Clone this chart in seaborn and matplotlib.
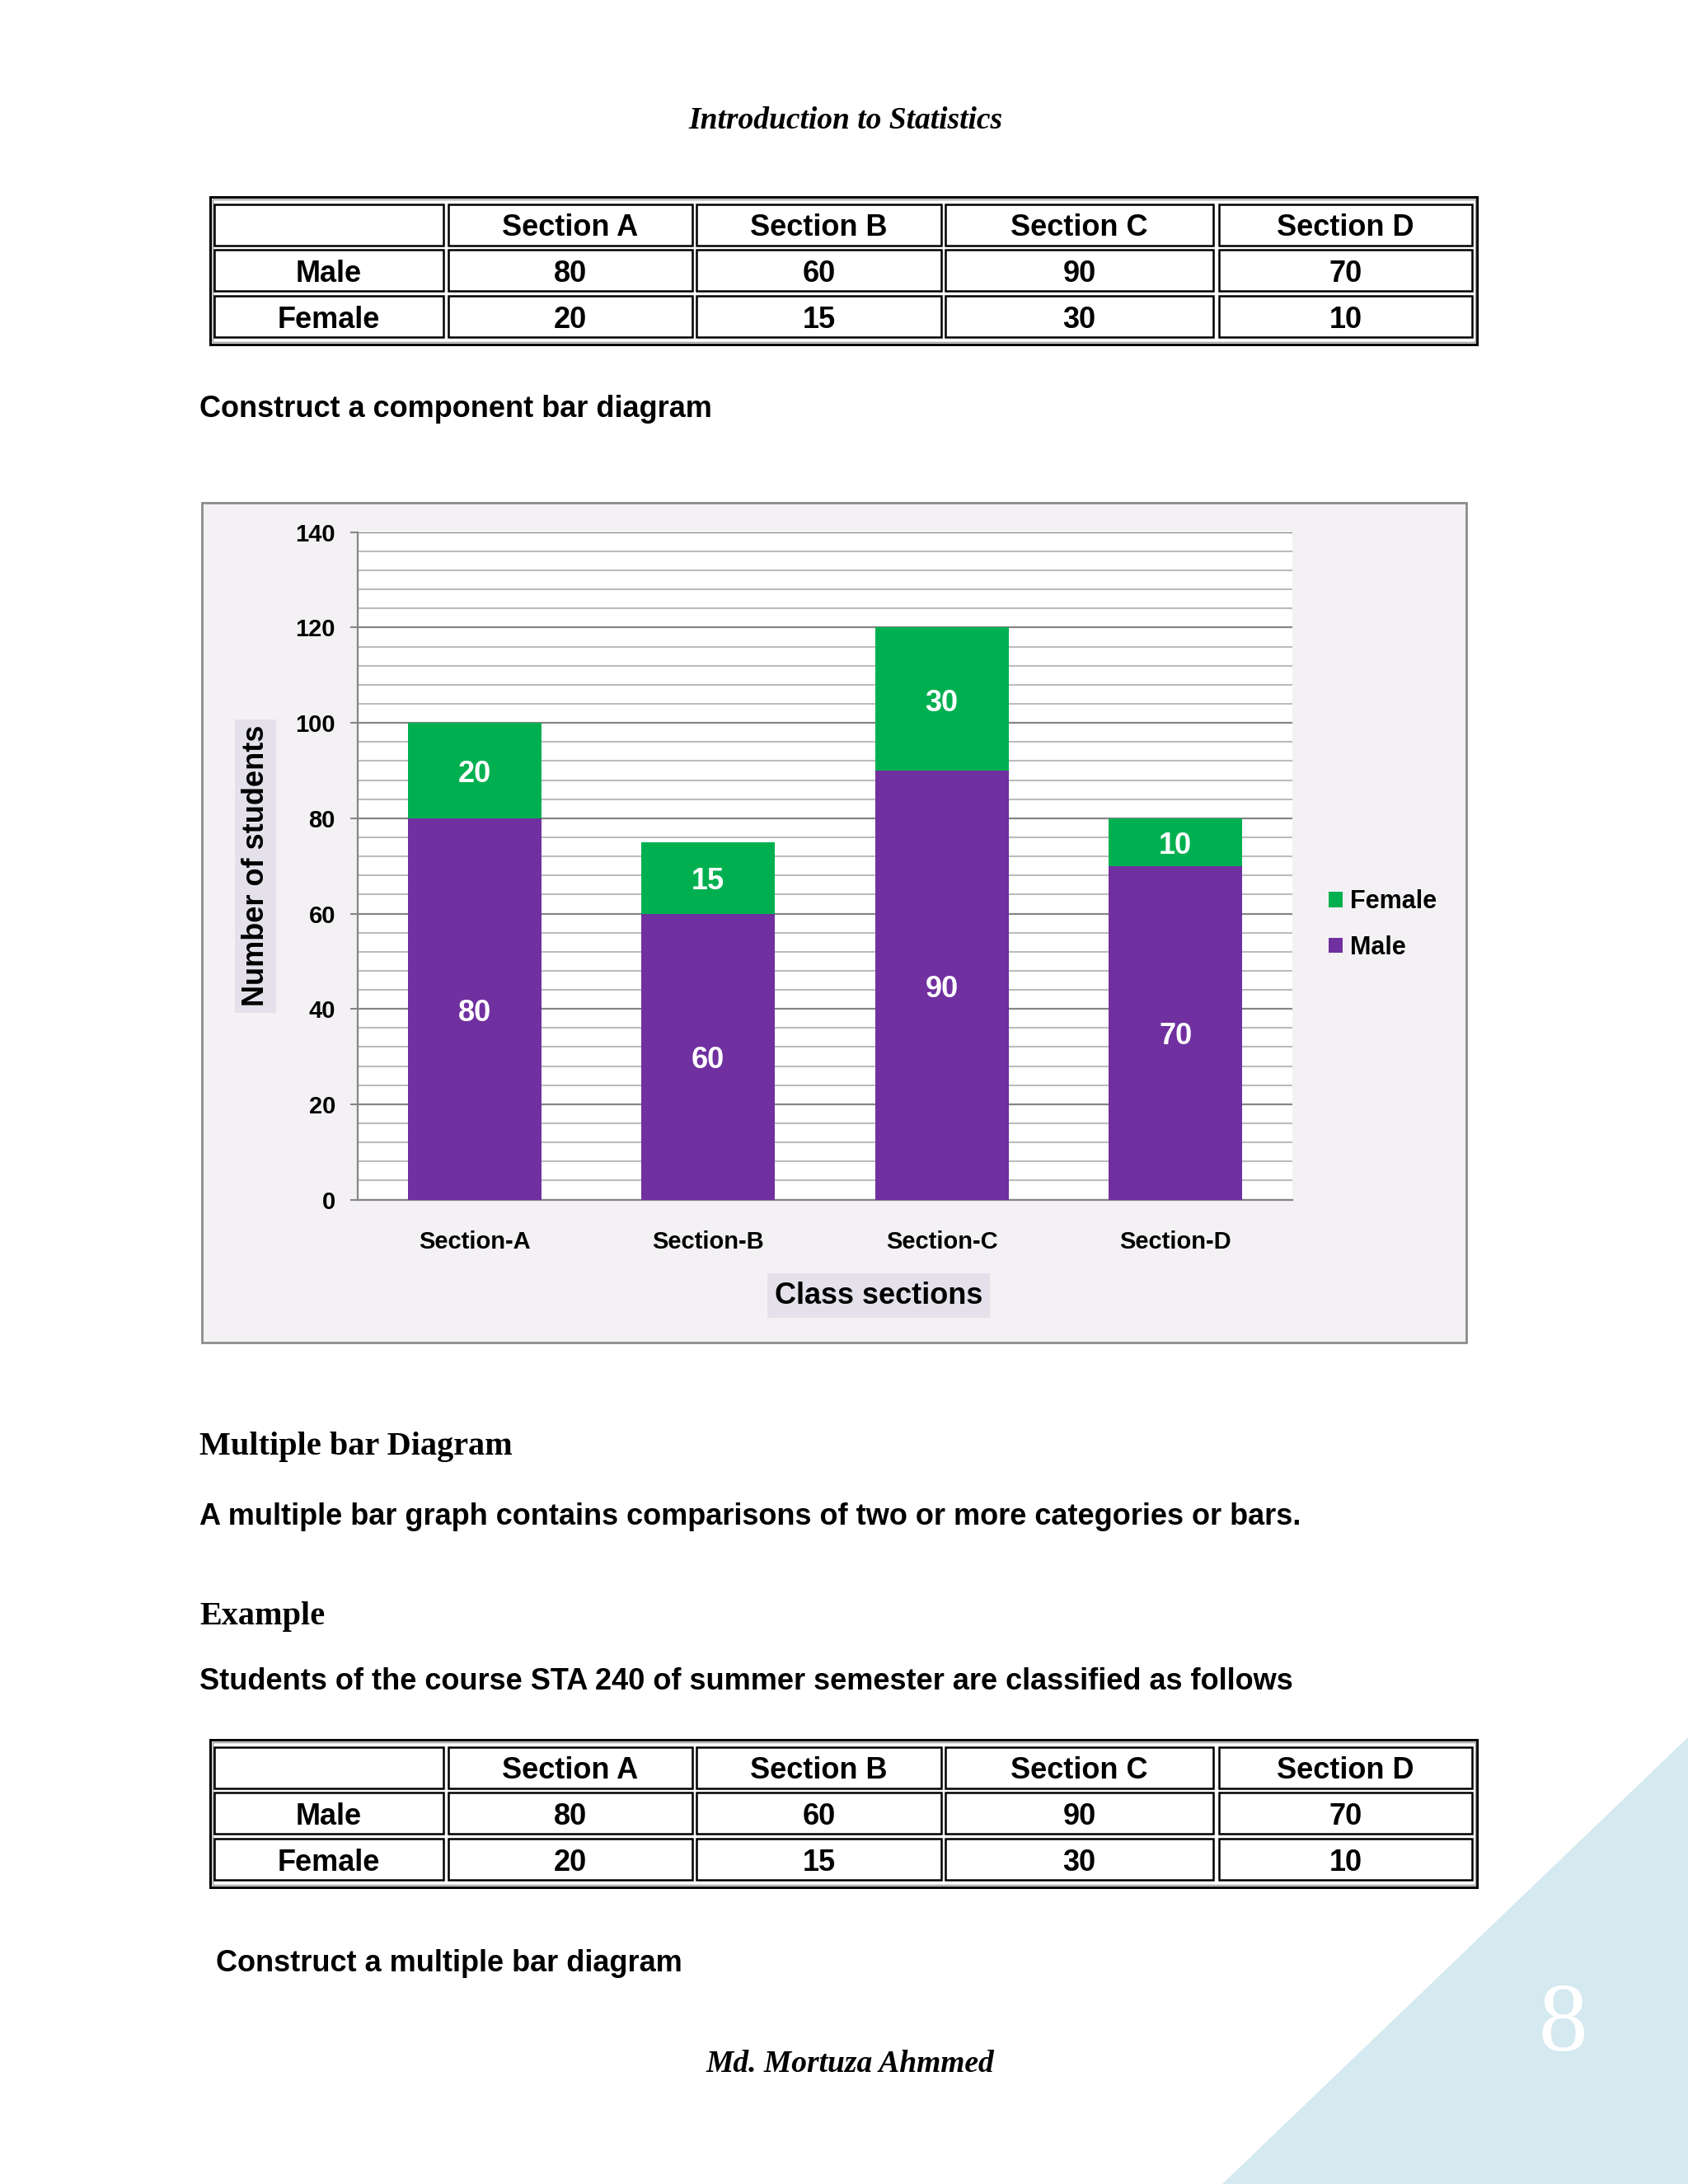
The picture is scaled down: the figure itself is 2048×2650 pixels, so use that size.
import numpy as np
import pandas as pd
import matplotlib.pyplot as plt
import seaborn as sns
from matplotlib.patches import Rectangle, Polygon, Patch

# data
table_cols = ["Section A", "Section B", "Section C", "Section D"]
chart_sections = ["Section-A", "Section-B", "Section-C", "Section-D"]
row_names = ["Male", "Female"]
male = [80, 60, 90, 70]
female = [20, 15, 30, 10]

PURPLE = "#7030a0"
GREEN = "#00b050"
W, H = 2048, 2650

sns.set_style("white")
plt.rcParams["font.family"] = ["Liberation Sans", "DejaVu Sans"]
plt.rcParams["text.color"] = "black"
plt.rcParams["axes.labelcolor"] = "black"
plt.rcParams["xtick.labelcolor"] = "black"
plt.rcParams["ytick.labelcolor"] = "black"

fig = plt.figure(figsize=(W / 100, H / 100), dpi=100)
fig.patch.set_facecolor("white")

# page layer in pixel coords
page = fig.add_axes([0, 0, 1, 1])
page.set_xlim(0, W)
page.set_ylim(H, 0)
page.axis("off")


def put(x, y, s, **kw):
    # va=center sits a bit high for caps/digits, nudge down
    kw.setdefault("va", "center")
    page.text(x, y + 4, s, **kw)


# corner decoration
page.add_patch(Polygon([(W, 2108), (W, H), (1483, H)], closed=True, fc="#d4e9f0", ec="none"))
put(1896, 2455, "8", fontsize=86, color="white", family="Liberation Serif", ha="center")

col_edges = [(260, 538), (544, 840), (845, 1142), (1147, 1472), (1479, 1786)]
row_edges = [(248, 298), (303, 353), (359, 409)]


def draw_table(top):
    off = top - 241
    page.add_patch(Rectangle((255, 239 + off), 1537, 179, fill=False, ec="black", lw=2.2))
    page.add_patch(Rectangle((257.5, 242 + off), 1532, 173, fill=False, ec="#9a9a9a", lw=1))
    cells = [[""] + table_cols]
    for name, vals in zip(row_names, [male, female]):
        cells.append([name] + [str(v) for v in vals])
    for r, (y0, y1) in enumerate(row_edges):
        for c, (x0, x1) in enumerate(col_edges):
            page.add_patch(Rectangle((x0, y0 + off), x1 - x0, y1 - y0, fill=False,
                                     ec="black", lw=1.8))
            put((x0 + x1) / 2, (y0 + y1) / 2 + off, cells[r][c], ha="center",
                fontsize=26, fontweight="bold")


# header / footer
put(1026, 142, "Introduction to Statistics", fontsize=27, style="italic",
    fontweight="bold", family="Liberation Serif", ha="center")
put(1031, 2501, "Md. Mortuza Ahmmed", fontsize=27, style="italic",
    fontweight="bold", family="Liberation Serif", ha="center")

draw_table(241)
put(242, 493, "Construct a component bar diagram", fontsize=26, fontweight="bold")

put(242, 1751, "Multiple bar Diagram", fontsize=29, fontweight="bold", family="Liberation Serif")
put(242, 1837, "A multiple bar graph contains comparisons of two or more categories or bars.",
    fontsize=26, fontweight="bold")
put(242, 1958, "Example", fontsize=29, fontweight="bold", family="Liberation Serif")
put(242, 2036, "Students of the course STA 240 of summer semester are classified as follows",
    fontsize=26, fontweight="bold")
draw_table(2113)
put(262, 2379, "Construct a multiple bar diagram", fontsize=26, fontweight="bold")

# chart frame
page.add_patch(Rectangle((245, 610), 1534, 1019, fc="#f3f1f4", ec="#8c8c8c", lw=2))

top_px, bot_px = 645.7, 1455.6
ax = fig.add_axes([434 / W, 1 - bot_px / H, 1134 / W, (bot_px - top_px) / H])
ax.set_facecolor("white")

df = pd.DataFrame({"section": chart_sections, "Male": male, "Female": female})
df["Total"] = df["Male"] + df["Female"]
sns.barplot(data=df, x="section", y="Total", color=GREEN, width=0.571, saturation=1,
            linewidth=0, ax=ax, zorder=3)
sns.barplot(data=df, x="section", y="Male", color=PURPLE, width=0.571, saturation=1,
            linewidth=0, ax=ax, zorder=3)

for i in range(len(chart_sections)):
    ax.annotate(str(male[i]), (i, male[i] / 2), xytext=(0, -3.5), textcoords="offset points",
                ha="center", va="center", color="white", fontsize=26, fontweight="bold", zorder=4)
    ax.annotate(str(female[i]), (i, male[i] + female[i] / 2), xytext=(0, -3.5),
                textcoords="offset points", ha="center", va="center", color="white",
                fontsize=26, fontweight="bold", zorder=4)

ax.set_xlim(-0.5, 3.5)
ax.set_ylim(0, 140)
ax.set_yticks(np.arange(0, 141, 20))
ax.set_yticks(np.arange(0, 141, 4), minor=True)
ax.set_axisbelow(True)
ax.grid(which="minor", axis="y", color="#bcbcbc", lw=1.5)
ax.grid(which="major", axis="y", color="#858585", lw=1.6)
ax.tick_params(axis="y", which="major", length=6.5, width=1.5, color="#858585", pad=13,
               labelsize=21, left=True)
ax.tick_params(axis="y", which="minor", length=0)
ax.tick_params(axis="x", length=0, pad=27, labelsize=21)
for lab in ax.get_xticklabels() + ax.get_yticklabels():
    lab.set_fontweight("bold")
for s in ["top", "right"]:
    ax.spines[s].set_visible(False)
for s in ["left", "bottom"]:
    ax.spines[s].set_color("#858585")
    ax.spines[s].set_linewidth(1.6)

ax.set_ylabel("Number of students", fontsize=26, fontweight="bold", va="center",
              bbox=dict(boxstyle="square,pad=0.2", fc="#e4e1ea", ec="none"))
ax.yaxis.set_label_coords(-(434 - 310) / 1134, 0.5)
ax.set_xlabel("Class sections", fontsize=26, fontweight="bold", va="center",
              bbox=dict(boxstyle="square,pad=0.25", fc="#e4e1ea", ec="none"))
ax.xaxis.set_label_coords((1066 - 434) / 1134, -(1572 - bot_px) / (bot_px - top_px))

handles = [Patch(fc=GREEN, ec="none"), Patch(fc=PURPLE, ec="none")]
ax.legend(handles, ["Female", "Male"], loc="center left", bbox_to_anchor=(1612, 1122),
          bbox_transform=page.transData, frameon=False, prop={"size": 22, "weight": "bold"},
          handlelength=0.55, handleheight=0.55, handletextpad=0.3, labelspacing=0.82,
          borderpad=0, borderaxespad=0)

fig.savefig("out.png", dpi=100)
